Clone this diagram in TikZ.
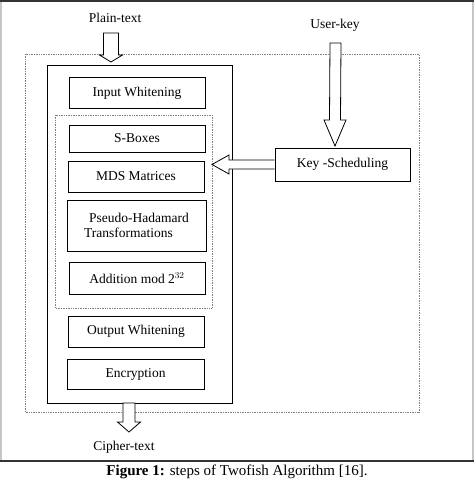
\documentclass[tikz,border=0pt]{standalone}
\usepackage{fontspec}
\setmainfont{Liberation Serif}
\usepackage{tikz}
\usetikzlibrary{positioning,calc}

\begin{document}
\begin{tikzpicture}[x=1pt,y=-1pt,
  stepbox/.style={draw, line width=1pt, minimum width=136pt, minimum height=31pt,
    inner sep=2pt, font=\fontsize{13.5}{15}\selectfont},
  lbl/.style={font=\fontsize{13.5}{15}\selectfont},
  blockarrow/.style={draw, fill=white, line width=0.8pt, line join=miter},
  dotbox/.style={draw=gray, densely dotted, line width=0.7pt}]
  \useasboundingbox (0,0) rectangle (474,480);

  % frame of the figure
  \draw[gray!45, line width=2pt] (1,1) -- (1,461) (473,1) -- (473,461);
  \draw[gray!40!black, line width=2pt] (0,1) -- (474,1) (0,461) -- (474,461);

  % the three surrounding boxes
  \draw[dotbox] (25,54) rectangle (419,412);
  \draw[line width=0.8pt] (47,65) rectangle (232,403);
  \draw[dotbox] (55,115) rectangle (212,308);

  % steps
  \node[stepbox] (inwhite) at (137,93) {Input Whitening};
  \node[stepbox, minimum height=27pt] (sbox) at (137,138.5) {S-Boxes};
  \node[stepbox] (mds) at (136,176.5) {MDS Matrices};
  \node[stepbox, minimum width=139pt, minimum height=51pt, align=left] (pht) at (136.5,225.5)
    {\hspace{5pt}Pseudo-Hadamard\\Transformations};
  \node[stepbox, minimum height=32pt] (add) at (137,278) {Addition mod 2$^{32}$};
  \node[stepbox] (outwhite) at (136,331.5) {Output Whitening};
  \node[stepbox, minimum width=137pt, minimum height=30pt] (enc) at (135.5,374) {Encryption};
  \node[stepbox, minimum width=135pt, minimum height=33pt] (keysch) at (342.5,164.5) {Key -Scheduling};

  % labels
  \node[lbl] (plain) at (115,18) {Plain-text};
  \node[lbl] (userkey) at (335,25) {User-key};
  \node[lbl] (cipher) at (124,447) {Cipher-text};
  \node[font=\fontsize{15}{17}\selectfont] (caption) at (237,472)
    {\textbf{Figure 1:} steps of Twofish Algorithm [16].};

  \coordinate (ptop) at (111,33);
  \coordinate (ptip) at (111,62);
  \coordinate (utop) at (335.5,43);
  \coordinate (utip) at (335,146);
  \coordinate (ctop) at (129,403);
  \coordinate (ctip) at (129,432);
  \coordinate (ktip) at (212,164.5);

  % block arrows
  \draw[blockarrow] ($(ptop)+(-7.5,0)$) -- ($(ptip)+(-7.5,-7)$) -- ($(ptip)+(-11.5,-7)$) -- (ptip)
    -- ($(ptip)+(11.5,-7)$) -- ($(ptip)+(7.5,-7)$) -- ($(ptop)+(7.5,0)$) -- cycle;
  \draw[blockarrow] ($(utop)+(-5.5,0)$) -- ($(utip)+(-5.5,-26)$) -- ($(utip)+(-11,-26)$) -- (utip)
    -- ($(utip)+(11,-26)$) -- ($(utip)+(5.5,-26)$) -- ($(utop)+(5.5,0)$) -- cycle;
  \draw[blockarrow] ($(ctop)+(-6,0)$) -- ($(ctip)+(-6,-10)$) -- ($(ctip)+(-11.5,-10)$) -- (ctip)
    -- ($(ctip)+(11.5,-10)$) -- ($(ctip)+(6,-10)$) -- ($(ctop)+(6,0)$) -- cycle;
  \draw[blockarrow] ($(keysch.west)+(0,-4.5)$) -- ($(ktip)+(17,-4.5)$) -- ($(ktip)+(17,-9.5)$) -- (ktip)
    -- ($(ktip)+(17,9.5)$) -- ($(ktip)+(17,4.5)$) -- ($(keysch.west)+(0,4.5)$);
\end{tikzpicture}
\end{document}
